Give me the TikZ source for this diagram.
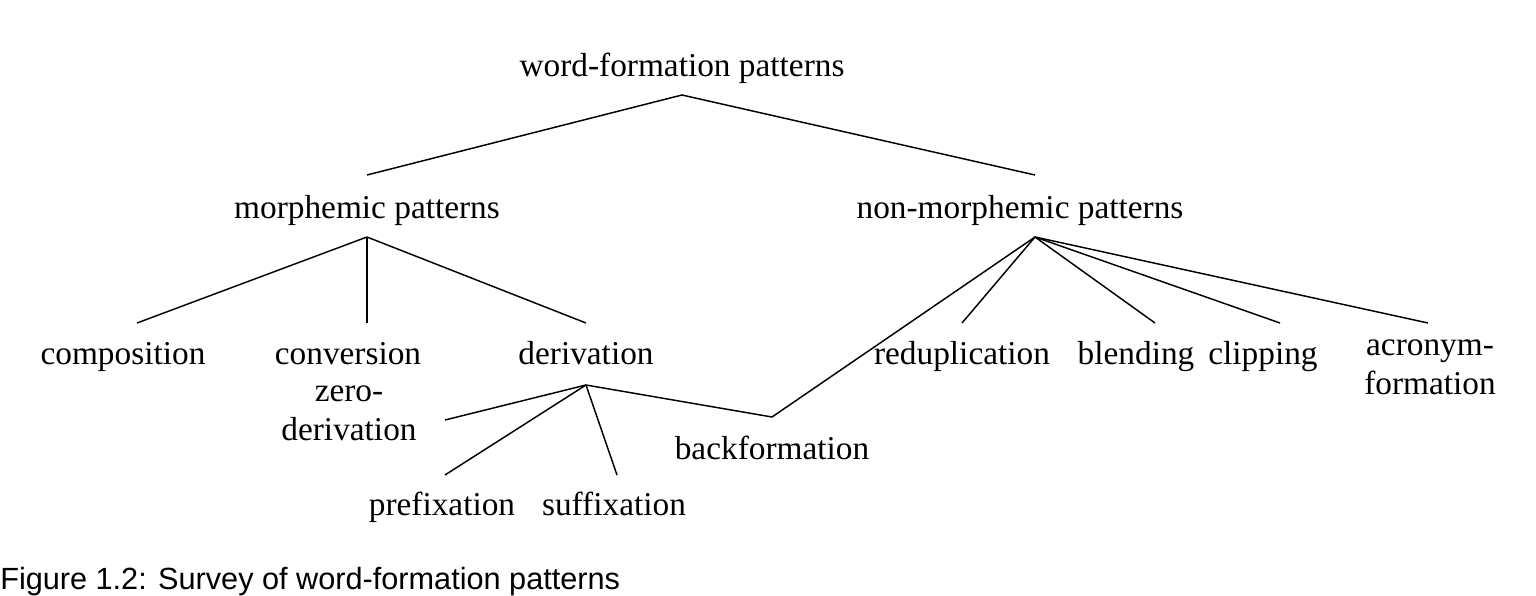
\documentclass[tikz,border=0pt]{standalone}
\usepackage{fontspec}
\setmainfont{Liberation Serif}
\newfontfamily\capfont{Liberation Sans}
\begin{document}
\begin{tikzpicture}[x=0.75pt,y=-0.75pt,
  lab/.style={font=\fontsize{25}{29}\selectfont,inner sep=0pt,align=center,anchor=base},
  edge/.style={line width=1.1pt}]
\useasboundingbox (0,0) rectangle (1536,596);
\node[lab] (wf) at (682,76) {word-formation patterns};
\node[lab] (mp) at (367,218) {morphemic patterns};
\node[lab] (nm) at (1020,218) {non-morphemic patterns};
\node[lab] (comp) at (123,364) {composition};
\node[lab] (conv) at (348,364) {conversion};
\node[lab] (der) at (586,364) {derivation};
\node[lab,anchor=north] (zero) at (349,386) {zero-\\derivation};
\node[lab] (back) at (772,459) {backformation};
\node[lab] (pre) at (442,515) {prefixation};
\node[lab] (suf) at (614,515) {suffixation};
\node[lab] (red) at (962,364) {reduplication};
\node[lab] (ble) at (1136,364) {blending};
\node[lab] (cli) at (1263,364) {clipping};
\node[lab,anchor=north] (acr) at (1430,340) {acronym-\\formation};
\coordinate (wfb) at (682,95);
\coordinate (mpt) at (367,175);
\coordinate (nmt) at (1035,175);
\coordinate (mpb) at (367,237);
\coordinate (nmb) at (1035,237);
\coordinate (compt) at (137,323);
\coordinate (convt) at (367,323);
\coordinate (dert) at (586,323);
\coordinate (derb) at (586,385);
\coordinate (zerot) at (445,420);
\coordinate (pret) at (445,475);
\coordinate (suft) at (617,475);
\coordinate (bk) at (772,417);
\coordinate (redt) at (962,323);
\coordinate (blet) at (1155,323);
\coordinate (clit) at (1280,323);
\coordinate (acrt) at (1428,323);
\draw[edge] (mpt) -- (wfb) -- (nmt);
\draw[edge] (mpb) -- (compt);
\draw[edge] (mpb) -- (convt);
\draw[edge] (mpb) -- (dert);
\draw[edge] (derb) -- (zerot);
\draw[edge] (derb) -- (pret);
\draw[edge] (derb) -- (suft);
\draw[edge] (derb) -- (bk) -- (nmb);
\draw[edge] (nmb) -- (redt);
\draw[edge] (nmb) -- (blet);
\draw[edge] (nmb) -- (clit);
\draw[edge] (nmb) -- (acrt);
\node[anchor=base west,inner sep=0pt,font=\capfont\fontsize{23}{27}\selectfont] (cap) at (0,589) {Figure 1.2: Survey of word-formation patterns};
\end{tikzpicture}
\end{document}
